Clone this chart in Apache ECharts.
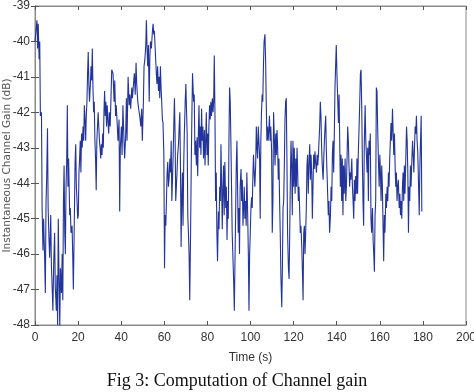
<!DOCTYPE html>
<html>
<head>
<meta charset="utf-8">
<script src="https://cdn.jsdelivr.net/npm/echarts@6/dist/echarts.min.js"></script>
<style>
html,body{margin:0;padding:0;background:#fff;}
#c{width:474px;height:392px;}
</style>
</head>
<body>
<div id="c"></div>
<script>
// Time samples (s)
const times = [
0,0.9,1.2,1.5,1.9,2.2,2.5,3.0,3.3,3.7,4.0,4.5,4.8,5.1,5.4,5.8,6.1,6.5,6.8,7.3,7.6,8.0,8.3,8.7,9.1,9.4,9.9,10.2,10.5,10.8,11.1,11.5,11.8,12.3,12.6,12.9,13.2,13.5,13.8,14.1,14.4,14.7,15.0,15.3,15.6,16.1,16.4,16.7,17.2,17.5,17.8,18.1,18.6,18.9,19.2,19.5,19.8,
20.1,20.4,20.7,21.0,21.3,21.6,21.9,22.3,22.6,22.9,23.2,23.5,23.8,24.1,24.4,24.7,25.0,25.3,25.7,26.0,26.3,26.6,26.9,27.2,27.5,27.8,28.1,28.4,28.7,29.0,29.3,29.6,29.9,30.2,30.5,30.8,31.1,31.4,31.7,32.0,32.3,32.6,32.9,33.2,33.5,33.9,34.2,34.5,34.9,35.3,35.6,
36.2,36.7,37.0,37.4,37.7,38.2,38.5,39.0,39.3,39.6,40.1,40.4,40.8,41.3,41.6,42.1,42.4,42.7,43.2,43.7,44.0,44.4,44.9,45.2,45.7,46.1,46.5,46.9,47.2,47.7,48.1,48.6,49.1,49.5,49.8,50.3,50.6,51.0,51.4,51.7,52.0,52.3,52.6,53.0,53.3,53.6,54.0,54.5,54.8,55.1,55.4,55.7,56.0,56.3,56.6,56.9,57.3,57.6,57.9,58.2,58.5,58.8,59.1,59.4,59.8,
60.1,60.4,60.7,61.0,61.3,61.6,61.9,62.2,62.6,62.9,63.2,63.5,63.8,64.1,64.4,64.7,65.0,65.3,65.6,65.9,66.2,66.6,66.9,67.2,67.5,67.8,68.1,68.4,68.7,69.0,69.3,69.7,70.0,70.3,70.6,70.9,71.2,71.5,71.8,72.2,72.5,72.8,73.1,
73.6,73.9,74.2,74.5,74.9,75.2,75.5,75.8,76.1,76.4,76.7,77.0,77.3,77.6,77.9,78.2,78.6,78.9,79.2,79.5,79.8,80.1,80.4,80.7,81.0,81.3,81.6,81.9,82.3,82.6,82.9,83.2,83.5,83.8,84.1,84.4,84.7,85.1,85.4,85.7,86.0,86.3,86.6,86.9,87.2,87.5,87.8,88.1,88.5,88.8,89.1,89.4,89.7,
90.0,90.3,90.6,90.9,91.2,91.5,91.9,92.2,92.5,92.8,93.1,93.4,93.7,94.0,94.3,94.6,94.9,95.2,95.6,95.9,96.2,96.5,96.8,97.1,97.4,97.7,98.0,98.3,98.7,99.0,99.3,99.6,99.9,100.2,100.5,100.8,101.1,101.4,101.7,102.0,102.4,102.7,103.0,103.3,103.6,103.9,104.2,104.5,104.8,105.1,105.4,105.7,106.0,106.3,106.7,107.0,107.3,107.6,107.9,108.2,108.5,108.8,109.1,109.4,109.8,110.1,
110.4,110.7,111.1,111.4,111.7,112.0,112.3,112.6,112.9,113.2,113.5,113.8,114.1,114.5,114.8,115.1,115.4,115.7,116.0,116.3,116.6,116.9,117.2,117.6,117.9,118.2,118.5,118.8,119.1,119.4,119.7,120.0,120.3,120.7,121.0,121.3,121.6,121.9,122.2,122.5,122.8,123.1,123.4,123.8,124.1,124.4,124.7,125.0,125.3,125.6,125.9,126.2,126.5,126.8,127.2,127.5,127.8,128.1,128.4,128.7,129.0,129.3,129.6,129.9,
130.2,130.6,130.9,131.2,131.5,131.8,132.1,132.4,132.7,133.0,133.3,133.7,134.0,134.3,134.6,134.9,135.2,135.5,135.8,136.1,136.4,136.7,137.1,137.4,137.7,138.0,138.3,138.6,138.9,139.2,139.5,139.8,140.1,140.5,140.8,141.1,141.4,141.7,142.0,142.3,142.6,142.9,143.2,143.5,143.9,144.2,144.5,144.8,145.1,145.4,145.7,146.0,146.3,146.6,147.0,147.3,
147.6,147.9,148.2,148.5,148.8,149.1,149.4,149.7,150.0,150.4,150.7,151.0,151.3,151.6,151.9,152.2,152.5,152.8,153.2,153.5,153.8,154.1,154.4,154.7,155.0,155.3,155.6,155.9,156.2,156.6,156.9,157.2,157.5,157.8,158.1,158.4,158.7,159.0,159.3,159.7,
160.0,160.3,160.6,160.9,161.2,161.5,161.8,162.1,162.4,162.8,163.1,163.4,163.7,164.0,164.3,164.6,164.9,165.2,165.5,165.9,166.2,166.5,166.8,167.1,167.4,167.7,168.0,168.3,168.6,169.0,169.3,169.6,169.9,170.2,170.5,170.8,171.1,171.4,171.7,172.1,172.4,172.7,173.0,173.3,173.6,173.9,174.2,174.5,174.9,175.2,175.5,175.8,176.1,176.4,176.7,177.0,177.3,177.6,178.0,178.3,178.6,178.9,179.2,179.5
];
// Instantaneous channel gain (dB)
const gains = [
-40.0,-39.4,-40.2,-39.5,-40.5,-40.0,-42.1,-42.0,-44.7,-45.9,-45.0,-46.2,-47.1,-44.6,-43.9,-42.45,-44.7,-45.6,-46.1,-44.9,-46.3,-47.0,-47.6,-46.2,-45.4,-46.9,-47.6,-46.6,-48.0,-45.0,-46.4,-48.1,-46.4,-47.1,-46.0,-47.3,-44.5,-43.5,-45.4,-46.0,-44.1,-43.4,-41.8,-44.1,-43.3,-44.9,-44.7,-45.4,-45.2,-46.0,-47.0,-45.7,-43.4,-42.9,-44.1,-44.5,-45.0,
-44.9,-43.7,-43.3,-42.8,-43.7,-42.6,-43.0,-42.4,-42.8,-41.8,-42.2,-42.8,-42.1,-41.7,-40.9,-40.3,-41.2,-41.7,-41.2,-40.7,-41.1,-40.2,-41.3,-42.0,-41.7,-42.8,-43.3,-44.2,-42.8,-42.4,-42.0,-42.4,-42.8,-43.0,-43.3,-42.9,-43.2,-42.6,-43.0,-42.0,-41.4,-42.1,-41.7,-42.4,-41.8,-42.3,-42.6,-42.0,-42.4,-41.5,-40.8,
-40.9,-41.7,-41.1,-42.1,-41.8,-42.4,-42.8,-42.2,-44.8,-43.0,-42.4,-43.2,-41.8,-42.8,-43.3,-42.6,-41.6,-42.8,-41.0,-41.8,-41.5,-41.9,-41.3,-41.6,-41.2,-40.9,-41.5,-40.6,-41.2,-41.7,-41.9,-42.1,-42.4,-41.9,-42.8,-41.7,-40.7,-40.5,-40.1,-39.4,-40.2,-40.7,-40.1,-41.7,-40.4,-40.0,-40.2,-39.7,-39.5,-39.8,-39.7,-40.1,-40.5,-40.9,-41.2,-40.7,-41.4,-41.0,-41.6,-40.7,-41.3,-41.7,-42.2,-42.3,-43.2,
-46.4,-44.9,-45.2,-44.5,-43.7,-43.4,-44.1,-43.9,-43.3,-43.7,-42.8,-44.5,-43.9,-43.2,-42.4,-41.6,-42.6,-44.5,-44.1,-43.7,-43.2,-42.9,-42.4,-42.0,-43.5,-45.8,-44.4,-43.7,-45.2,-43.5,-42.6,-41.7,-41.2,-41.9,-42.6,-44.9,-45.4,-46.0,-47.3,-45.4,-43.5,-42.1,-40.9,
-41.7,-41.5,-43.2,-42.8,-43.5,-42.7,-43.8,-42.6,-41.8,-43.0,-42.4,-43.2,-41.9,-42.8,-42.4,-43.3,-42.5,-43.5,-42.8,-42.0,-43.2,-42.6,-43.5,-42.4,-41.8,-42.2,-41.7,-42.1,-41.6,-42.0,-41.7,-40.4,-42.0,-44.5,-43.7,-45.4,-46.2,-44.8,-45.3,-44.1,-44.5,-42.9,-44.1,-45.3,-44.1,-43.5,-44.9,-43.4,-44.7,-44.1,-45.6,-44.5,-45.0,
-42.8,-41.3,-41.7,-42.8,-44.1,-45.4,-46.2,-46.8,-47.6,-46.2,-44.9,-43.5,-42.8,-44.1,-45.4,-44.7,-46.0,-44.1,-43.6,-44.5,-43.9,-45.2,-44.7,-44.1,-45.0,-44.5,-45.2,-43.7,-44.9,-46.0,-47.6,-46.0,-45.4,-44.7,-44.4,-44.7,-43.8,-43.2,-43.7,-44.1,-43.5,-42.4,-43.0,-43.3,-42.4,-42.8,-43.2,-45.0,-42.8,-42.0,-41.5,-41.7,-40.7,-40.0,-39.8,-40.5,-41.7,-42.8,-42.4,-42.8,-42.5,-42.1,-42.8,-42.4,-43.1,-45.4,
-44.5,-42.0,-42.8,-43.5,-42.6,-43.2,-42.5,-43.0,-43.9,-43.3,-44.5,-45.4,-46.6,-47.5,-46.4,-44.7,-44.5,-43.5,-42.2,-41.7,-41.6,-43.3,-45.4,-46.4,-46.7,-45.4,-43.9,-42.8,-43.5,-44.9,-42.8,-44.1,-43.0,-44.3,-43.3,-44.1,-43.0,-43.7,-44.5,-44.1,-44.7,-45.4,-45.2,-45.8,-46.5,-47.3,-45.4,-45.2,-46.0,-45.4,-44.7,-43.5,-43.2,-44.3,-43.3,-42.9,-43.9,-43.2,-43.7,-45.0,-44.1,-43.2,-43.6,-43.1,
-43.4,-43.7,-43.2,-43.5,-43.2,-42.8,-42.4,-41.7,-42.1,-43.0,-43.5,-43.9,-43.3,-42.8,-42.4,-42.1,-43.1,-43.7,-44.3,-44.9,-44.5,-45.4,-44.9,-44.1,-44.5,-43.2,-42.8,-43.7,-42.6,-41.3,-40.7,-40.1,-40.9,-41.7,-42.3,-41.5,-42.8,-44.1,-43.2,-44.5,-43.3,-44.9,-43.5,-44.3,-43.3,-44.5,-44.1,-43.3,-42.4,-42.8,-43.5,-44.1,-43.7,-43.9,-43.3,-44.1,
-44.5,-45.0,-43.9,-44.5,-43.8,-44.3,-43.3,-44.3,-43.2,-42.4,-41.7,-40.9,-40.8,-41.8,-43.3,-44.5,-45.2,-42.9,-41.8,-42.8,-43.2,-43.7,-43.0,-44.5,-42.8,-43.2,-42.6,-45.0,-45.4,-44.7,-45.6,-46.0,-46.5,-44.9,-44.5,-41.3,-41.4,-42.4,-43.2,-44.1,
-43.2,-43.7,-44.5,-43.5,-44.1,-45.2,-46.2,-44.9,-45.4,-44.3,-44.7,-44.1,-44.5,-43.7,-44.1,-43.3,-42.8,-42.3,-42.8,-41.9,-42.6,-43.2,-42.6,-43.5,-44.1,-43.7,-44.5,-44.1,-43.9,-44.7,-44.3,-44.9,-44.5,-45.0,-44.1,-43.7,-44.5,-43.5,-44.3,-43.2,-42.4,-42.8,-43.7,-45.4,-44.1,-44.5,-43.5,-44.1,-43.3,-42.8,-43.2,-43.7,-43.0,-42.4,-42.6,-42.1,-42.8,-43.1,-44.1,-44.9,-43.5,-42.8,-42.1,-44.8
];
// Axis tick labels
const xTicks = [0,20,40,60,80,100,120,140,160,180,200];
const yTicks = [-48,-47,-46,-45,-44,-43,-42,-41,-40,-39];

const seriesData = times.map((t,i)=>[t,gains[i]]);
const chart = echarts.init(document.getElementById('c'), null, {renderer:'canvas'});
const axisCol = '#8a8a8a';
const labelFont = {color:'#333', fontFamily:'Liberation Sans, Arial, sans-serif', fontSize:12};
chart.setOption({
  animation:false,
  backgroundColor:'#fff',
  title:{
    text:'Fig 3: Computation of Channel gain',
    left:'center', top:367,
    textStyle:{fontFamily:'Liberation Serif, Times New Roman, serif', fontWeight:'normal', fontSize:18, color:'#111'}
  },
  grid:{left:35, right:8, top:6, bottom:67, show:true, borderColor:axisCol, borderWidth:1, containLabel:false, outerBoundsMode:'none'},
  xAxis:[{
    type:'value', min:xTicks[0], max:xTicks[xTicks.length-1], interval:20,
    name:'Time (s)', nameLocation:'middle', nameGap:27, nameMoveOverlap:false,
    nameTextStyle:{color:'#333', fontFamily:'Liberation Sans, Arial, sans-serif', fontSize:12},
    axisLine:{show:true, lineStyle:{color:axisCol}},
    axisTick:{show:true, inside:true, length:4, lineStyle:{color:'#555'}},
    axisLabel:Object.assign({margin:7}, labelFont),
    splitLine:{show:false}
  },{
    type:'value', position:'top', min:xTicks[0], max:xTicks[xTicks.length-1], interval:20,
    axisLine:{show:true, lineStyle:{color:axisCol}},
    axisTick:{show:true, inside:true, length:4, lineStyle:{color:'#555'}},
    axisLabel:{show:false}, splitLine:{show:false}
  }],
  yAxis:[{
    type:'value', min:yTicks[0], max:yTicks[yTicks.length-1], interval:1,
    name:'Instantaneous Channel Gain (dB)', nameLocation:'middle', nameGap:22.5, nameMoveOverlap:false,
    nameTextStyle:{color:'#555', fontFamily:'DejaVu Sans, sans-serif', fontSize:10.5},
    axisLine:{show:true, lineStyle:{color:axisCol}},
    axisTick:{show:true, inside:true, length:4, lineStyle:{color:'#555'}},
    axisLabel:Object.assign({margin:5}, labelFont),
    splitLine:{show:false}
  },{
    type:'value', position:'right', min:yTicks[0], max:yTicks[yTicks.length-1], interval:1,
    axisLine:{show:true, lineStyle:{color:axisCol}},
    axisTick:{show:true, inside:true, length:4, lineStyle:{color:'#555'}},
    axisLabel:{show:false}, splitLine:{show:false}
  }],
  series:[{
    type:'line', data:seriesData, showSymbol:false, symbol:'none',
    lineStyle:{color:'#23349a', width:1.1}, clip:true
  }]
});
</script>
</body>
</html>
